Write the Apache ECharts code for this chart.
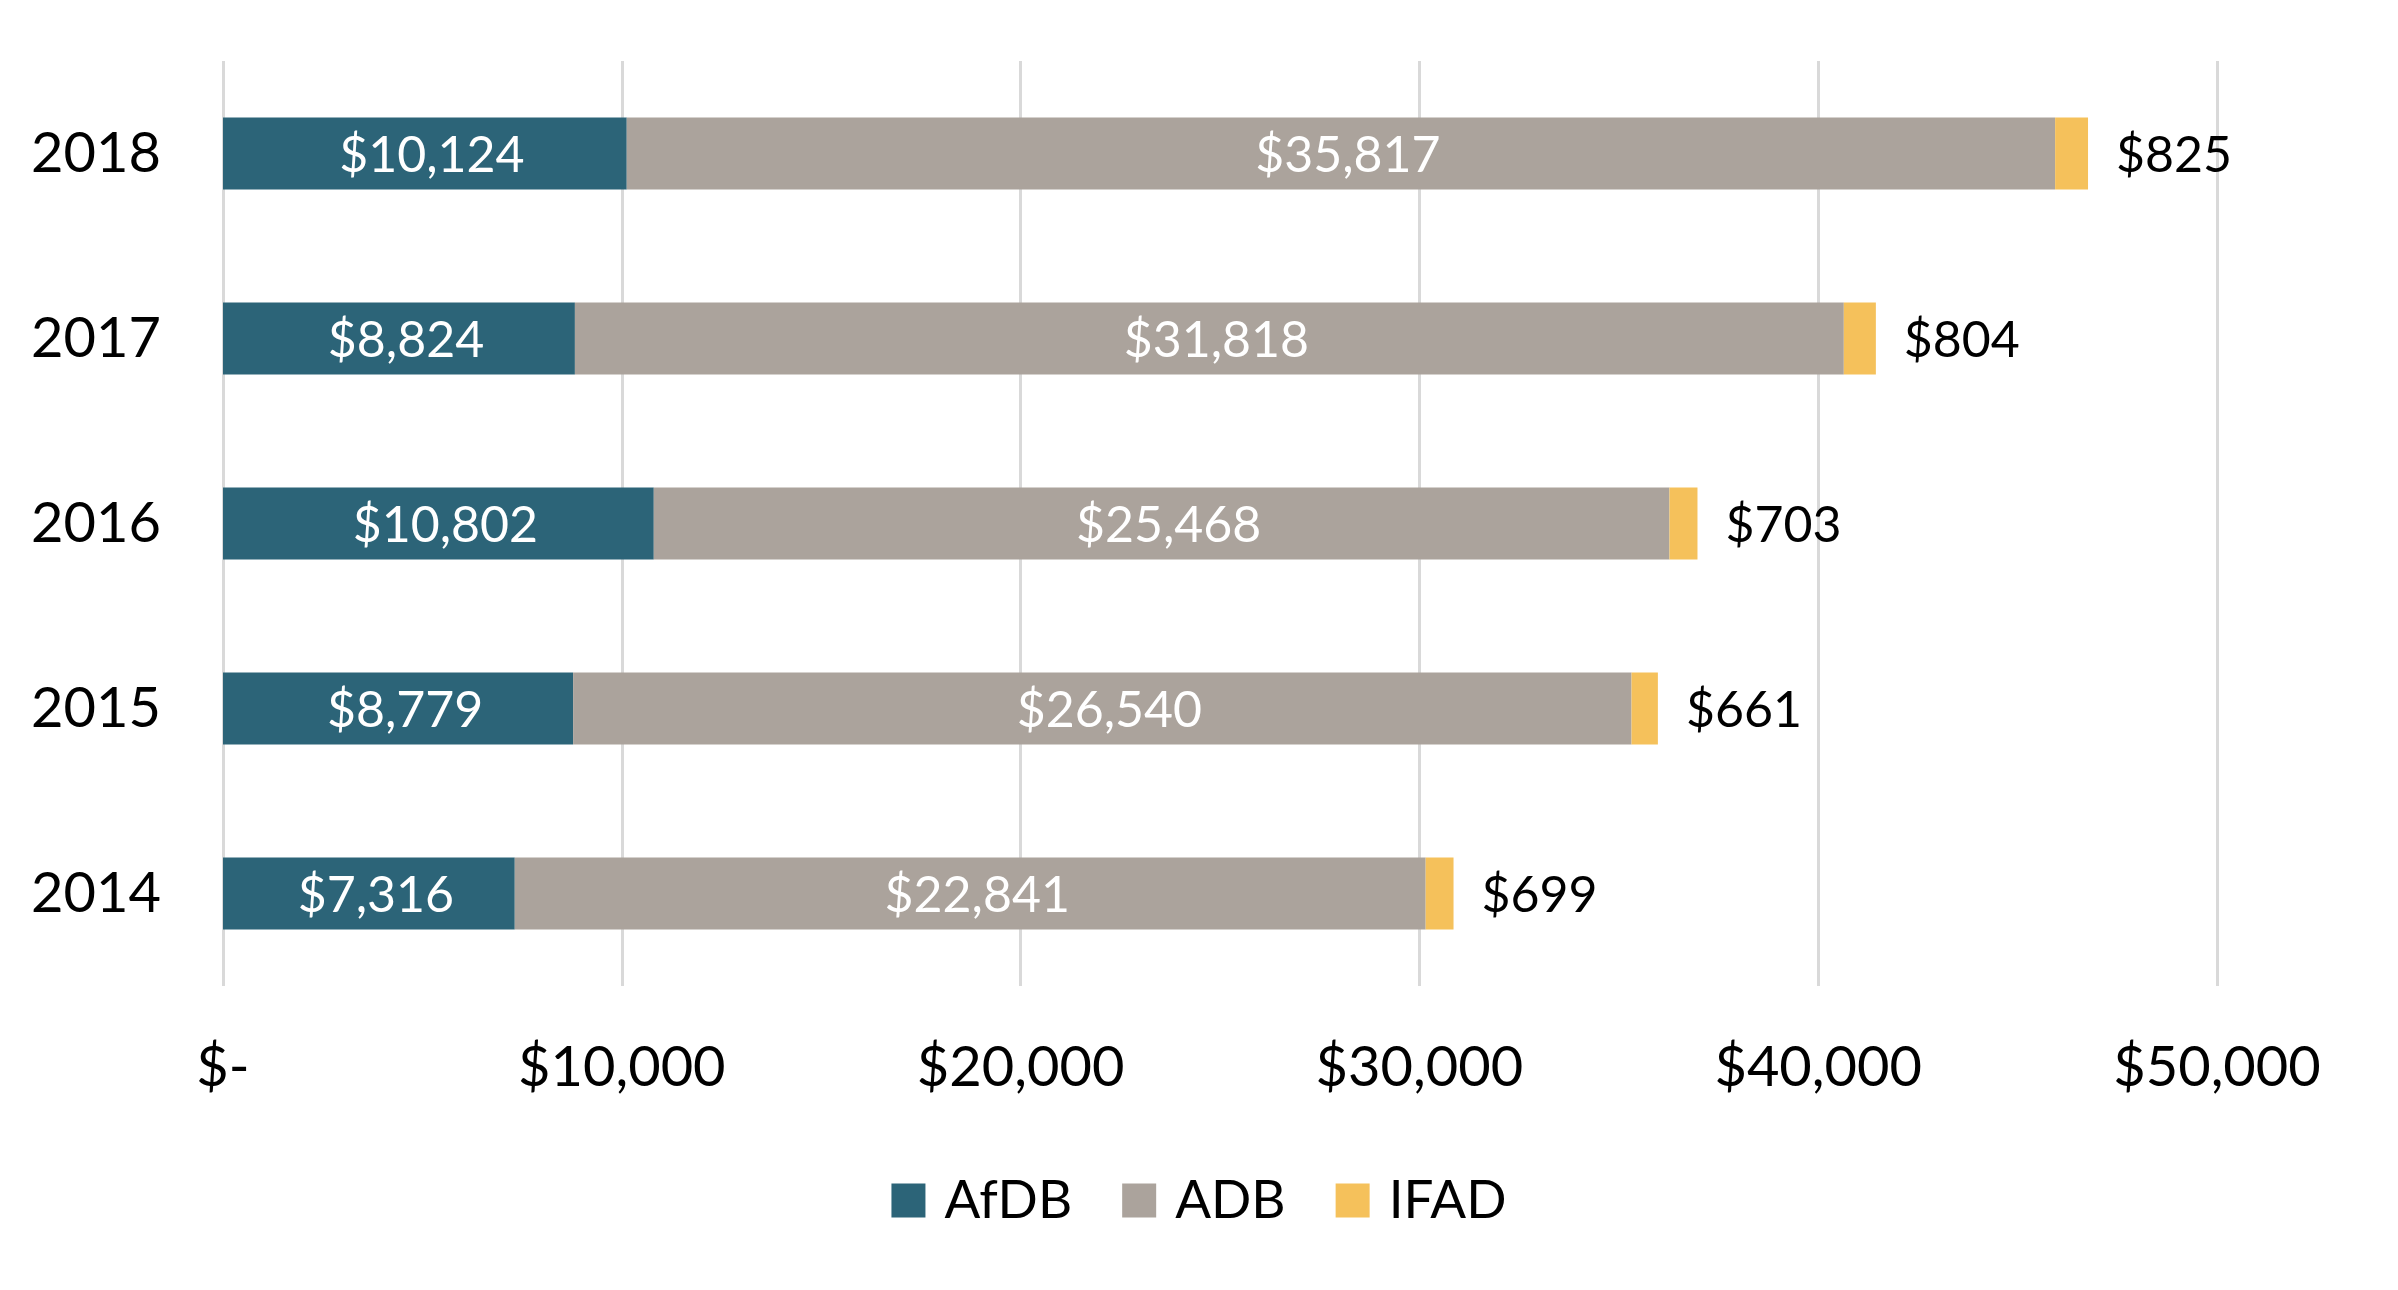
<!DOCTYPE html>
<html>
<head>
<meta charset="utf-8">
<script src="https://cdn.jsdelivr.net/npm/echarts@6/dist/echarts.min.js"></script>
<style>
html,body{margin:0;padding:0;background:#fff;}
#c{width:2398px;height:1290px;}
</style>
</head>
<body>
<div id="c"></div>
<script>
const years = ['2014','2015','2016','2017','2018'];
const afdb = [7316, 8779, 10802, 8824, 10124];
const adb = [22841, 26540, 25468, 31818, 35817];
const ifad = [699, 661, 703, 804, 825];
const seriesNames = ['AfDB','ADB','IFAD'];
const colors = ['#2C6478','#ABA39C','#F5C15B'];

const FONT = 'Lato';
const fmt = v => '$' + Number(v).toLocaleString('en-US');

const chart = echarts.init(document.getElementById('c'), null, {renderer:'canvas'});
const barW = 72;
chart.setOption({
  animation:false,
  backgroundColor:'#fff',
  textStyle:{fontFamily:FONT},
  grid:{left:223, right:181, top:61, bottom:304, containLabel:false},
  legend:{
    bottom:58, left:'center',
    itemWidth:34, itemHeight:34, itemGap:50,
    icon:'rect',
    textStyle:{fontFamily:FONT, fontSize:53, color:'#000', padding:[0,0,0,14]},
    data:seriesNames
  },
  xAxis:{
    type:'value', min:0, max:50000, interval:10000,
    axisLine:{show:false}, axisTick:{show:false},
    splitLine:{show:true, lineStyle:{color:'#D9D9D9', width:3}},
    axisLabel:{fontFamily:FONT, fontSize:56, color:'#000', margin:54,
      formatter: v => v === 0 ? '$-' : fmt(v)}
  },
  yAxis:{
    type:'category', data:years,
    axisLine:{show:false}, axisTick:{show:false},
    axisLabel:{fontFamily:FONT, fontSize:56, color:'#000', margin:62}
  },
  series:[
    {name:seriesNames[0], type:'bar', stack:'t', data:afdb, barWidth:barW,
     itemStyle:{color:colors[0]},
     label:{show:true, position:'inside', offset:[7,2], color:'#fff', fontFamily:FONT, fontSize:50, formatter:p=>fmt(p.value)}},
    {name:seriesNames[1], type:'bar', stack:'t', data:adb, barWidth:barW,
     itemStyle:{color:colors[1]},
     label:{show:true, position:'inside', offset:[7,2], color:'#fff', fontFamily:FONT, fontSize:50, formatter:p=>fmt(p.value)}},
    {name:seriesNames[2], type:'bar', stack:'t', data:ifad, barWidth:barW,
     itemStyle:{color:colors[2]},
     label:{show:true, position:'right', distance:28, offset:[0,2], color:'#000', fontFamily:FONT, fontSize:50, formatter:p=>fmt(p.value)}}
  ]
});
</script>
</body>
</html>
